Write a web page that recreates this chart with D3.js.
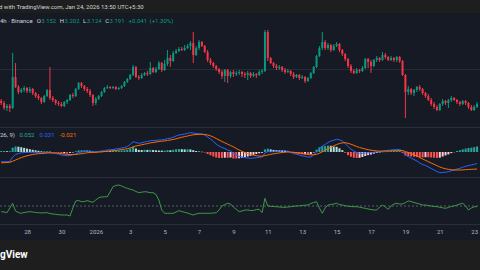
<!DOCTYPE html>
<html>
<head>
<meta charset="utf-8">
<script src="https://cdn.jsdelivr.net/npm/d3@7"></script>
<style>
  html, body { margin: 0; padding: 0; background: #161a25; }
  svg { display: block; font-family: Roboto, "Noto Sans", sans-serif; }
</style>
</head>
<body>
<div id="chart"></div>
<script>
// 4h candles, first one at Dec 26 12:00, one every 4 hours
const firstOpen = 3.22;
const closes = [
  3.20,3.15,3.17,3.15,3.46,3.36,3.31,3.33,3.35,3.32,
  3.34,3.30,3.27,3.25,3.21,3.27,3.33,3.25,3.23,3.20,
  3.19,3.17,3.21,3.23,3.28,3.27,3.34,3.40,3.37,3.34,
  3.32,3.28,3.20,3.24,3.27,3.31,3.35,3.36,3.35,3.36,
  3.34,3.35,3.37,3.41,3.44,3.48,3.56,3.46,3.45,3.48,
  3.50,3.49,3.55,3.51,3.54,3.60,3.53,3.59,3.65,3.62,
  3.70,3.72,3.74,3.73,3.75,3.77,3.80,3.68,3.75,3.81,
  3.77,3.71,3.63,3.60,3.57,3.54,3.51,3.47,3.53,3.47,
  3.51,3.49,3.50,3.51,3.49,3.48,3.50,3.47,3.49,3.48,
  3.51,3.52,3.91,3.65,3.60,3.57,3.55,3.56,3.53,3.51,
  3.52,3.49,3.46,3.48,3.45,3.46,3.42,3.45,3.50,3.56,
  3.67,3.75,3.81,3.75,3.78,3.73,3.77,3.79,3.73,3.69,
  3.64,3.57,3.52,3.50,3.53,3.52,3.55,3.64,3.61,3.57,
  3.63,3.65,3.63,3.68,3.66,3.63,3.65,3.63,3.66,3.62,
  3.48,3.31,3.34,3.30,3.33,3.36,3.34,3.30,3.27,3.23,
  3.19,3.16,3.13,3.19,3.22,3.20,3.23,3.25,3.23,3.21,
  3.19,3.22,3.20,3.16,3.13,3.16,3.191
];
const highs = [
  3.24,3.22,3.19,3.19,3.70,3.60,3.38,3.35,3.37,3.36,
  3.36,3.35,3.31,3.29,3.26,3.28,3.34,3.56,3.27,3.24,
  3.22,3.21,3.22,3.24,3.29,3.30,3.35,3.41,3.41,3.38,
  3.36,3.34,3.29,3.26,3.28,3.32,3.36,3.38,3.37,3.37,
  3.37,3.36,3.38,3.42,3.45,3.49,3.58,3.57,3.48,3.50,
  3.51,3.52,3.61,3.56,3.56,3.62,3.61,3.63,3.73,3.68,
  3.72,3.74,3.76,3.76,3.78,3.79,3.82,3.91,3.77,3.83,
  3.82,3.78,3.73,3.65,3.61,3.58,3.55,3.53,3.54,3.54,
  3.52,3.53,3.52,3.53,3.52,3.51,3.52,3.51,3.51,3.50,
  3.53,3.54,3.93,3.93,3.66,3.61,3.59,3.58,3.57,3.55,
  3.54,3.53,3.51,3.49,3.49,3.48,3.47,3.46,3.51,3.57,
  3.68,3.77,3.91,3.83,3.80,3.79,3.79,3.81,3.80,3.74,
  3.70,3.65,3.59,3.54,3.55,3.54,3.57,3.65,3.65,3.63,
  3.64,3.67,3.66,3.71,3.70,3.67,3.67,3.66,3.67,3.67,
  3.63,3.49,3.37,3.35,3.34,3.37,3.38,3.35,3.31,3.29,
  3.25,3.21,3.18,3.20,3.24,3.23,3.24,3.27,3.26,3.24,
  3.22,3.23,3.23,3.21,3.18,3.18,3.21
];
const lows = [
  3.18,3.13,3.12,3.11,3.14,3.35,3.29,3.30,3.31,3.30,
  3.30,3.28,3.25,3.23,3.19,3.20,3.26,3.23,3.21,3.18,
  3.17,3.16,3.16,3.19,3.22,3.25,3.26,3.33,3.35,3.32,
  3.30,3.26,3.17,3.18,3.23,3.26,3.30,3.34,3.34,3.34,
  3.33,3.33,3.34,3.36,3.40,3.43,3.47,3.45,3.43,3.44,
  3.47,3.47,3.48,3.50,3.50,3.53,3.51,3.52,3.57,3.56,
  3.61,3.69,3.71,3.72,3.72,3.74,3.73,3.60,3.67,3.73,
  3.76,3.70,3.61,3.58,3.55,3.52,3.49,3.44,3.41,3.40,
  3.45,3.46,3.47,3.48,3.46,3.45,3.43,3.45,3.46,3.45,
  3.47,3.49,3.51,3.62,3.59,3.55,3.53,3.53,3.51,3.49,
  3.50,3.47,3.44,3.45,3.43,3.44,3.40,3.41,3.44,3.49,
  3.55,3.66,3.73,3.73,3.73,3.71,3.72,3.76,3.71,3.67,
  3.62,3.55,3.50,3.49,3.49,3.50,3.51,3.54,3.55,3.50,
  3.56,3.61,3.61,3.62,3.64,3.62,3.62,3.61,3.61,3.60,
  3.47,3.05,3.28,3.28,3.27,3.31,3.32,3.28,3.25,3.22,
  3.17,3.14,3.12,3.12,3.17,3.18,3.15,3.21,3.22,3.19,
  3.17,3.18,3.18,3.14,3.12,3.12,3.15
];

// MACD (12, 26, 9)
const macdLine = [
  -0.0097,-0.0097,-0.0097,-0.0095,-0.005,-0.0025,-0.0015,-0.0008,-0.0005,-0.0004,
  -0.0003,-0.0003,-0.0003,-0.0005,-0.0008,-0.0006,-0.0003,-0.0005,-0.001,-0.0015,
  -0.002,-0.003,-0.0033,-0.0038,-0.0035,-0.0028,-0.0018,-0.0005,0,0.0005,
  0.001,0.0007,0,0,0.0005,0.001,0.0015,0.002,0.0022,0.0025,
  0.003,0.0035,0.004,0.0045,0.0055,0.0075,0.0103,0.0095,0.0087,0.0092,
  0.01,0.0105,0.0113,0.0115,0.0117,0.012,0.0122,0.0125,0.0135,0.0137,
  0.0147,0.016,0.017,0.0175,0.018,0.0187,0.0193,0.019,0.0185,0.0182,
  0.018,0.017,0.015,0.013,0.0105,0.008,0.006,0.0045,0.0035,0.002,
  0.001,-0.0013,-0.003,-0.0043,-0.005,-0.0057,-0.006,-0.0063,-0.006,-0.0057,
  -0.0053,-0.005,-0.001,0.0003,0.0003,0.0003,0.0005,0.0008,0.0012,0.0012,
  0.0007,-0.0005,-0.0015,-0.0023,-0.003,-0.0038,-0.0043,-0.005,-0.005,-0.003,
  0,0.0035,0.006,0.0075,0.0095,0.011,0.0117,0.0127,0.0122,0.011,
  0.0085,0.0055,0.003,0.001,-0.0005,-0.0013,-0.0013,-0.001,-0.0008,-0.0007,
  -0.0003,0.0002,0.0005,0.001,0.0013,0.0017,0.002,0.0023,0.0025,0.0027,
  0.0005,-0.003,-0.0045,-0.006,-0.0075,-0.009,-0.011,-0.0125,-0.0135,-0.015,
  -0.0165,-0.018,-0.0195,-0.0207,-0.0205,-0.0202,-0.0197,-0.0188,-0.018,-0.017,
  -0.0163,-0.0153,-0.0143,-0.0135,-0.013,-0.0123,-0.0115
];
const signalLine = [
  -0.0107,-0.0107,-0.0105,-0.0103,-0.0093,-0.008,-0.0068,-0.0056,-0.0046,-0.0038,
  -0.0031,-0.0025,-0.002,-0.0017,-0.0015,-0.0013,-0.001,-0.0009,-0.0009,-0.001,
  -0.0012,-0.0016,-0.002,-0.0023,-0.0026,-0.0026,-0.0025,-0.0021,-0.0017,-0.0012,
  -0.0008,-0.0005,-0.0004,-0.0003,-0.0001,0.0001,0.0004,0.0007,0.001,0.0013,
  0.0016,0.002,0.0024,0.0028,0.0033,0.004,0.0052,0.006,0.0066,0.0072,
  0.0078,0.0084,0.0091,0.0095,0.01,0.0105,0.0108,0.0111,0.0116,0.012,
  0.0125,0.0132,0.014,0.0147,0.0154,0.016,0.0167,0.0172,0.0175,0.0177,
  0.0177,0.0175,0.017,0.0162,0.015,0.0135,0.012,0.0105,0.0092,0.0078,
  0.0065,0.0052,0.0035,0.002,0.0007,-0.0005,-0.0015,-0.0025,-0.0032,-0.0037,
  -0.004,-0.0042,-0.0036,-0.003,-0.0023,-0.0018,-0.0013,-0.0009,-0.0005,-0.0002,
  0,0,-0.0003,-0.0006,-0.001,-0.0015,-0.002,-0.0025,-0.0028,-0.0028,
  -0.0023,-0.0012,0.0002,0.0016,0.0032,0.0048,0.0062,0.0075,0.0085,0.0091,
  0.0093,0.0087,0.0078,0.0067,0.0055,0.0045,0.0037,0.003,0.0023,0.0018,
  0.0014,0.0011,0.0009,0.0008,0.0009,0.001,0.0011,0.0012,0.0013,0.0015,
  0.0015,0.0005,-0.0005,-0.0016,-0.0028,-0.004,-0.0055,-0.007,-0.0083,-0.0097,
  -0.011,-0.0123,-0.0136,-0.015,-0.016,-0.0168,-0.0173,-0.0177,-0.018,-0.018,
  -0.018,-0.0179,-0.0177,-0.0175,-0.0173,-0.0172,-0.017
];

// bottom pane oscillator, 0 = dashed level
const oscValues = [
  -5.7,-6,-6.7,-2,2.7,-5,-6.5,-7.3,-6.5,-6,
  -5.7,-6,-6.5,-6.7,-7,-6.7,-6.7,-7.5,-8,-8.3,
  -8.7,-9,-9,-9,-10,-2,5,5.5,4.3,4.5,
  5.3,4.5,3.7,6,8.3,9,9.2,9.3,14,19.3,
  20.5,21,20,18.7,17.7,16.7,16,14.5,13.3,13.8,
  14.3,14,13.3,13.3,11.5,6,-4,-7.3,-7.3,-7.3,
  -7.3,-6,-4.7,-5.5,-6.3,-7,-8,-9,-8,-7.3,
  -7.3,-7.3,-7.3,-7.3,-7,-6.7,-4,0,1.5,2.7,
  2,-1,-3.3,-5.5,-5,-4,-4,-4.5,-4.5,-3.5,
  -3.3,-6.7,7.7,0,-0.3,-0.5,-0.7,-1,-1.2,-1.3,
  -1,-0.7,-0.3,0,0.2,0.5,0.8,1,2.5,3.5,
  4.3,-2,-7.3,-2,1,1.5,2,2.7,1.5,1,
  0.2,-0.2,-0.5,-0.7,-0.7,-1.2,-1.8,-2.3,-3,-3.5,
  -4,-4,-1,1,-1,-3.3,0,2,2.7,2,
  2,3.5,5,4.5,3.5,2.7,2,1,1,0.5,
  0,-0.5,-0.7,-1.2,-1.8,-2.3,-1.5,-0.5,0,1,
  2,2.7,0,-4,-2,-0.7,-0.7
];

const tickDates = ["2025-12-28","2025-12-30","2026-01-01","2026-01-03","2026-01-05","2026-01-07","2026-01-09",
  "2026-01-11","2026-01-13","2026-01-15","2026-01-17","2026-01-19","2026-01-21","2026-01-23"];
const tickLabels = ["28","30","2026","3","5","7","9","11","13","15","17","19","21","23"];
const gridPrices = [3.54];

const upColor = "#089981", downColor = "#f23645";

const svg = d3.select("#chart").append("svg")
  .attr("width", 480)
  .attr("height", 270);

svg.append("rect").attr("width", 480).attr("height", 270).attr("fill", "#161a25");
svg.append("rect").attr("width", 480).attr("height", 13).attr("fill", "#1e1e1e");
svg.append("rect").attr("y", 240).attr("width", 480).attr("height", 30).attr("fill", "#1e1e1e");

// panes
const x = d3.scaleUtc()
  .domain([new Date(Date.UTC(2025, 11, 28)), new Date(Date.UTC(2026, 0, 23))])
  .range([27, 474.2]);
const y = d3.scaleLinear().domain([3.0, 4.1]).range([123, 13]);
const yMacd = d3.scaleLinear().domain([-0.025, 0.024]).range([177, 128]);
const yOsc = d3.scaleLinear().domain([-18, 28]).range([224, 178]);

const t0 = Date.UTC(2025, 11, 26, 12);
const candles = closes.map((c, i) => ({
  t: new Date(t0 + i * 4 * 3600 * 1000),
  o: i === 0 ? firstOpen : closes[i - 1],
  h: highs[i], l: lows[i], c: c
}));

// grid + separators
svg.selectAll(".grid").data(gridPrices).enter().append("line")
  .attr("x1", 0).attr("x2", 480)
  .attr("y1", d => Math.round(y(d)) + 0.5).attr("y2", d => Math.round(y(d)) + 0.5)
  .attr("stroke", "#252a36");
[127.5, 177.5, 224.5].forEach(yy => {
  svg.append("line").attr("x1", 0).attr("x2", 480).attr("y1", yy).attr("y2", yy)
    .attr("stroke", "#2a2e39");
});

// candles
const main = svg.append("g");
main.selectAll(".wick").data(candles).enter().append("rect")
  .attr("x", d => x(d.t) - 0.5)
  .attr("width", 1)
  .attr("y", d => y(d.h))
  .attr("height", d => Math.max(1, y(d.l) - y(d.h)))
  .attr("fill", d => d.c >= d.o ? upColor : downColor);
main.selectAll(".body").data(candles).enter().append("rect")
  .attr("x", d => x(d.t) - 1)
  .attr("width", 2)
  .attr("y", d => y(Math.max(d.o, d.c)))
  .attr("height", d => Math.max(1, Math.abs(y(d.o) - y(d.c))))
  .attr("fill", d => d.c >= d.o ? upColor : downColor);

// MACD pane
const hist = macdLine.map((m, i) => m - signalLine[i]);
const histColor = (v, i) => {
  const prev = i > 0 ? hist[i - 1] : v;
  if (v >= 0) return v >= prev ? "#26a69a" : "#b2dfdb";
  return v < prev ? "#ff5252" : "#ffcdd2";
};
svg.append("g").selectAll("rect").data(hist).enter().append("rect")
  .attr("x", (d, i) => x(candles[i].t) - 1)
  .attr("width", 2)
  .attr("y", d => yMacd(Math.max(0, d)))
  .attr("height", d => Math.max(0.5, Math.abs(yMacd(d) - yMacd(0))))
  .attr("fill", histColor);

const macdPath = d3.line().x((d, i) => x(candles[i].t)).y(d => yMacd(d));
svg.append("path").datum(macdLine).attr("d", macdPath)
  .attr("fill", "none").attr("stroke", "#2962ff").attr("stroke-width", 1);
svg.append("path").datum(signalLine).attr("d", macdPath)
  .attr("fill", "none").attr("stroke", "#ff6d00").attr("stroke-width", 1);

// oscillator pane
svg.append("line").attr("x1", 0).attr("x2", 480)
  .attr("y1", yOsc(0)).attr("y2", yOsc(0))
  .attr("stroke", "#787b86").attr("stroke-opacity", 0.7)
  .attr("stroke-dasharray", "2,2");
svg.append("path").datum(oscValues)
  .attr("d", d3.line().x((d, i) => x(candles[i].t)).y(d => yOsc(d)))
  .attr("fill", "none").attr("stroke", "#3e9a45").attr("stroke-width", 1);

// time axis
const xAxis = d3.axisBottom(x)
  .tickValues(tickDates.map(d => new Date(d + "T00:00:00Z")))
  .tickFormat((d, i) => tickLabels[i])
  .tickSize(0)
  .tickPadding(0);
const axisG = svg.append("g").attr("transform", "translate(0,230)").call(xAxis);
axisG.select(".domain").remove();
axisG.selectAll("text")
  .attr("fill", "#b2b5be")
  .style("font-family", "Roboto, 'Noto Sans', sans-serif")
  .style("font-size", "6px");

// header & legends
svg.append("text").attr("x", -1).attr("y", 9)
  .attr("fill", "#d1d4dc").style("font-size", "6px")
  .text("d with TradingView.com, Jan 24, 2026 13:50 UTC+5:30");

// legend pieces flow one after another; dx is the gap before each piece
const legend = svg.append("text").attr("x", 0).attr("y", 23).style("font-size", "6px");
[["4h · Binance", 0, "#d1d4dc"], ["O", 4, "#d1d4dc"], ["3.152", 0.4, upColor],
 ["H", 3.5, "#d1d4dc"], ["3.202", 0.4, upColor], ["L", 3.5, "#d1d4dc"], ["3.124", 0.4, upColor],
 ["C", 3.5, "#d1d4dc"], ["3.191", 0.4, upColor], ["+0.041", 4, upColor], ["(+1.30%)", 2.5, upColor]]
  .forEach(([txt, gap, col]) => legend.append("tspan").attr("dx", gap).attr("fill", col).text(txt));

const macdLegend = svg.append("text").attr("x", 0).attr("y", 137).style("font-size", "6px");
[["26, 9)", 0, "#d1d4dc"], ["0.052", 4.5, "#22ab94"], ["0.031", 5, "#2962ff"], ["-0.021", 5, "#ff6d00"]]
  .forEach(([txt, gap, col]) => macdLegend.append("tspan").attr("dx", gap).attr("fill", col).text(txt));

svg.append("text").attr("x", 0).attr("y", 258)
  .attr("fill", "#ffffff").style("font-size", "10px").style("font-weight", "bold")
  .text("gView");
</script>
</body>
</html>
